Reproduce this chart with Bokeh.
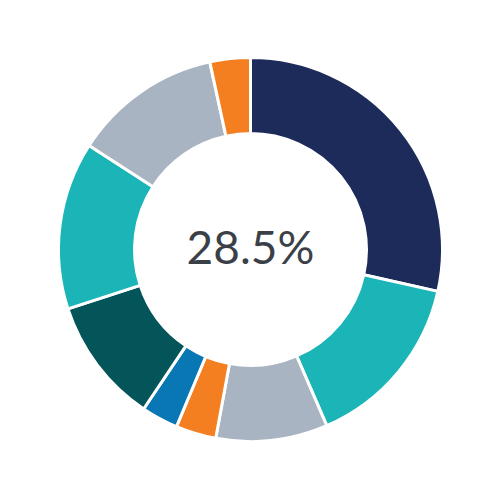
import numpy as np
from bokeh.plotting import figure
from bokeh.models import ColumnDataSource
from bokeh.core.properties import value
from bokeh.embed import file_html
from bokeh.resources import INLINE

# shares in percent, clockwise from 12 o'clock
shares = [28.5, 15.0, 9.4, 3.4, 3.1, 10.6, 14.1, 12.5, 3.4]
palette = ["#1c2b5a", "#1bb5b8", "#a9b4c2", "#f47f20", "#0a77b5",
           "#03555a", "#1bb5b8", "#a9b4c2", "#f47f20"]
center_label = "28.5%"

W = 484
cx, cy = 250, 235

frac = np.array(shares) / sum(shares)
cum = np.concatenate([[0], np.cumsum(frac)])
start = np.pi / 2 - cum[:-1] * 2 * np.pi
end = np.pi / 2 - cum[1:] * 2 * np.pi

src = ColumnDataSource(dict(start=start, end=end, color=palette))

p = figure(width=W, height=W, x_range=(0, W), y_range=(0, W),
           output_backend="svg", toolbar_location=None, min_border=0)
p.axis.visible = False
p.grid.visible = False
p.outline_line_color = None

p.annular_wedge(x=cx, y=cy, inner_radius=116, outer_radius=192,
                start_angle="start", end_angle="end", direction="clock",
                fill_color="color", line_color="white", line_width=3,
                source=src)

p.text(x=[cx], y=[cy + 3], text=[center_label], text_font=value("Lato"),
       text_font_size="46px", text_color="#3b3f48",
       text_align="center", text_baseline="middle")

open("out.html", "w").write(file_html(p, INLINE))
